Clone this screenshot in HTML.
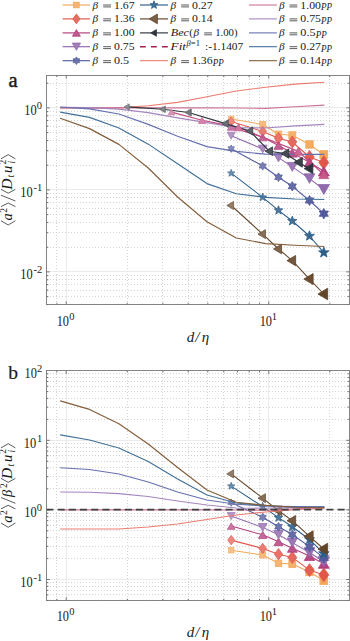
<!DOCTYPE html><html><head><meta charset="utf-8"><style>
html,body{margin:0;padding:0;background:#fff;width:350px;height:641px;overflow:hidden}
svg{display:block}
.mg{stroke:#d4d4d4;stroke-width:1;stroke-dasharray:1 2}
.Mg{stroke:#ebebeb;stroke-width:1}
.tk{stroke:#262626;stroke-width:0.6;fill:none}
.ax{stroke:#707070;stroke-width:0.85;fill:none}
text{font-family:"Liberation Serif", serif;fill:#1a1a1a}
</style></head><body>
<svg width="350" height="641" viewBox="0 0 350 641">
<rect width="350" height="641" fill="#fff"/>
<clipPath id="ca"><rect x="46.6" y="75.3" width="302.79999999999995" height="229.2"/></clipPath>
<line x1="56.50" y1="76" x2="56.50" y2="304.5" class="mg"/>
<line x1="127.50" y1="76" x2="127.50" y2="304.5" class="mg"/>
<line x1="162.50" y1="76" x2="162.50" y2="304.5" class="mg"/>
<line x1="188.50" y1="76" x2="188.50" y2="304.5" class="mg"/>
<line x1="207.50" y1="76" x2="207.50" y2="304.5" class="mg"/>
<line x1="223.50" y1="76" x2="223.50" y2="304.5" class="mg"/>
<line x1="237.50" y1="76" x2="237.50" y2="304.5" class="mg"/>
<line x1="249.50" y1="76" x2="249.50" y2="304.5" class="mg"/>
<line x1="259.50" y1="76" x2="259.50" y2="304.5" class="mg"/>
<line x1="329.50" y1="76" x2="329.50" y2="304.5" class="mg"/>
<line x1="47" y1="304.50" x2="349.4" y2="304.50" class="mg"/>
<line x1="47" y1="296.50" x2="349.4" y2="296.50" class="mg"/>
<line x1="47" y1="290.50" x2="349.4" y2="290.50" class="mg"/>
<line x1="47" y1="284.50" x2="349.4" y2="284.50" class="mg"/>
<line x1="47" y1="279.50" x2="349.4" y2="279.50" class="mg"/>
<line x1="47" y1="275.50" x2="349.4" y2="275.50" class="mg"/>
<line x1="47" y1="247.50" x2="349.4" y2="247.50" class="mg"/>
<line x1="47" y1="232.50" x2="349.4" y2="232.50" class="mg"/>
<line x1="47" y1="222.50" x2="349.4" y2="222.50" class="mg"/>
<line x1="47" y1="214.50" x2="349.4" y2="214.50" class="mg"/>
<line x1="47" y1="208.50" x2="349.4" y2="208.50" class="mg"/>
<line x1="47" y1="202.50" x2="349.4" y2="202.50" class="mg"/>
<line x1="47" y1="197.50" x2="349.4" y2="197.50" class="mg"/>
<line x1="47" y1="193.50" x2="349.4" y2="193.50" class="mg"/>
<line x1="47" y1="165.50" x2="349.4" y2="165.50" class="mg"/>
<line x1="47" y1="150.50" x2="349.4" y2="150.50" class="mg"/>
<line x1="47" y1="140.50" x2="349.4" y2="140.50" class="mg"/>
<line x1="47" y1="132.50" x2="349.4" y2="132.50" class="mg"/>
<line x1="47" y1="126.50" x2="349.4" y2="126.50" class="mg"/>
<line x1="47" y1="120.50" x2="349.4" y2="120.50" class="mg"/>
<line x1="47" y1="115.50" x2="349.4" y2="115.50" class="mg"/>
<line x1="47" y1="111.50" x2="349.4" y2="111.50" class="mg"/>
<line x1="47" y1="83.50" x2="349.4" y2="83.50" class="mg"/>
<line x1="66.50" y1="75.3" x2="66.50" y2="304.5" class="Mg"/>
<line x1="268.50" y1="75.3" x2="268.50" y2="304.5" class="Mg"/>
<line x1="46.6" y1="271.50" x2="349.4" y2="271.50" class="Mg"/>
<line x1="46.6" y1="189.50" x2="349.4" y2="189.50" class="Mg"/>
<line x1="46.6" y1="107.50" x2="349.4" y2="107.50" class="Mg"/>
<g clip-path="url(#ca)">
<polyline points="231.20,118.90 262.70,124.50 278.50,134.30 292.30,135.20 309.50,144.50 323.80,154.60" fill="none" stroke="#F2A85A" stroke-width="1.05" stroke-linejoin="round" />
<rect x="228.47" y="116.17" width="5.46" height="5.46" fill="#f6c28c" stroke="#f4b573" stroke-width="0.8"/>
<rect x="259.70" y="121.50" width="6.01" height="6.01" fill="#f5bc80" stroke="#f3af67" stroke-width="0.8"/>
<rect x="275.26" y="131.06" width="6.47" height="6.47" fill="#f4b776" stroke="#f2aa5d" stroke-width="0.8"/>
<rect x="288.83" y="131.73" width="6.94" height="6.94" fill="#f3b26c" stroke="#f2a85a" stroke-width="0.8"/>
<rect x="305.80" y="140.79" width="7.41" height="7.41" fill="#f3ac62" stroke="#f2a85a" stroke-width="0.8"/>
<rect x="319.90" y="150.70" width="7.80" height="7.80" fill="#f2a85a" stroke="#f2a85a" stroke-width="0.8"/>
<polyline points="231.20,121.60 262.70,131.40 278.50,138.20 292.30,142.00 309.50,157.00 323.80,162.50" fill="none" stroke="#E2564A" stroke-width="1.05" stroke-linejoin="round" />
<path d="M231.20 116.84L234.70 121.60L231.20 126.36L227.70 121.60Z" fill="#eb8980" stroke="#e66f65" stroke-width="0.8"/>
<path d="M262.70 126.16L266.55 131.40L262.70 136.64L258.85 131.40Z" fill="#e97d74" stroke="#e46458" stroke-width="0.8"/>
<path d="M278.50 132.56L282.65 138.20L278.50 143.84L274.35 138.20Z" fill="#e77369" stroke="#e3594e" stroke-width="0.8"/>
<path d="M292.30 135.95L296.75 142.00L292.30 148.05L287.85 142.00Z" fill="#e5695e" stroke="#e2564a" stroke-width="0.8"/>
<path d="M309.50 150.54L314.25 157.00L309.50 163.46L304.75 157.00Z" fill="#e35e53" stroke="#e2564a" stroke-width="0.8"/>
<path d="M323.80 155.70L328.80 162.50L323.80 169.30L318.80 162.50Z" fill="#e2564a" stroke="#e2564a" stroke-width="0.8"/>
<polyline points="231.20,127.00 262.70,137.30 278.50,145.50 292.30,153.00 309.50,162.30 323.80,171.30" fill="none" stroke="#B23E7C" stroke-width="1.05" stroke-linejoin="round" />
<path d="M231.20 123.77L235.05 130.23L227.35 130.23Z" fill="#c978a3" stroke="#be5b90" stroke-width="0.8"/>
<path d="M262.70 133.74L266.94 140.86L258.46 140.86Z" fill="#c46a9a" stroke="#b84d86" stroke-width="0.8"/>
<path d="M278.50 141.67L283.06 149.33L273.94 149.33Z" fill="#bf5f92" stroke="#b4427f" stroke-width="0.8"/>
<path d="M292.30 148.89L297.19 157.11L287.41 157.11Z" fill="#ba538a" stroke="#b23e7c" stroke-width="0.8"/>
<path d="M309.50 157.91L314.73 166.69L304.27 166.69Z" fill="#b64883" stroke="#b23e7c" stroke-width="0.8"/>
<path d="M323.80 166.68L329.30 175.92L318.30 175.92Z" fill="#b23e7c" stroke="#b23e7c" stroke-width="0.8"/>
<polyline points="231.20,135.70 262.70,149.00 278.50,157.60 292.30,166.90 309.50,178.60 323.80,189.50" fill="none" stroke="#9068AC" stroke-width="1.05" stroke-linejoin="round" />
<path d="M231.20 139.21L235.19 132.19L227.21 132.19Z" fill="#b195c5" stroke="#a17fb8" stroke-width="0.8"/>
<path d="M262.70 152.86L267.09 145.14L258.31 145.14Z" fill="#aa8bbf" stroke="#9974b3" stroke-width="0.8"/>
<path d="M278.50 161.76L283.23 153.44L273.77 153.44Z" fill="#a382ba" stroke="#926bae" stroke-width="0.8"/>
<path d="M292.30 171.36L297.37 162.44L287.23 162.44Z" fill="#9c79b5" stroke="#9068ac" stroke-width="0.8"/>
<path d="M309.50 183.37L314.92 173.83L304.08 173.83Z" fill="#9670b0" stroke="#9068ac" stroke-width="0.8"/>
<path d="M323.80 194.52L329.50 184.48L318.10 184.48Z" fill="#9068ac" stroke="#9068ac" stroke-width="0.8"/>
<polyline points="231.20,148.70 262.70,166.00 278.50,177.20 292.30,186.30 309.50,200.50 323.80,213.70" fill="none" stroke="#525A9C" stroke-width="1.05" stroke-linejoin="round" />
<path d="M231.20 144.99L232.28 146.84L234.41 146.84L233.35 148.70L234.41 150.55L232.28 150.56L231.20 152.41L230.12 150.56L227.99 150.55L229.05 148.70L227.99 146.84L230.12 146.84Z" fill="#868cba" stroke="#6c73ab" stroke-width="0.8"/>
<path d="M262.70 161.92L263.88 163.95L266.23 163.96L265.07 166.00L266.23 168.04L263.88 168.05L262.70 170.08L261.52 168.05L259.17 168.04L260.33 166.00L259.17 163.96L261.52 163.95Z" fill="#7a80b3" stroke="#6067a4" stroke-width="0.8"/>
<path d="M278.50 172.80L279.78 174.99L282.31 175.00L281.05 177.20L282.31 179.40L279.78 179.41L278.50 181.60L277.22 179.41L274.69 179.40L275.95 177.20L274.69 175.00L277.22 174.99Z" fill="#6f76ad" stroke="#555d9e" stroke-width="0.8"/>
<path d="M292.30 181.58L293.67 183.93L296.39 183.94L295.04 186.30L296.39 188.66L293.67 188.67L292.30 191.02L290.93 188.67L288.21 188.66L289.56 186.30L288.21 183.94L290.93 183.93Z" fill="#656ca7" stroke="#525a9c" stroke-width="0.8"/>
<path d="M309.50 195.47L310.96 197.97L313.86 197.98L312.42 200.50L313.86 203.02L310.96 203.03L309.50 205.53L308.04 203.03L305.14 203.02L306.58 200.50L305.14 197.98L308.04 197.97Z" fill="#5b62a1" stroke="#525a9c" stroke-width="0.8"/>
<path d="M323.80 208.40L325.34 211.04L328.39 211.05L326.87 213.70L328.39 216.35L325.34 216.36L323.80 219.00L322.26 216.36L319.21 216.35L320.73 213.70L319.21 211.05L322.26 211.04Z" fill="#525a9c" stroke="#525a9c" stroke-width="0.8"/>
<polyline points="231.20,173.20 262.70,197.30 278.50,210.30 292.30,221.00 309.50,236.00 323.80,252.60" fill="none" stroke="#2D5E88" stroke-width="1.05" stroke-linejoin="round" />
<path d="M231.20 169.35L232.15 171.89L234.86 172.01L232.74 173.70L233.46 176.31L231.20 174.82L228.94 176.31L229.66 173.70L227.54 172.01L230.25 171.89Z" fill="#6c8eac" stroke="#4c769a" stroke-width="0.8"/>
<path d="M262.70 193.06L263.75 195.86L266.73 195.99L264.39 197.85L265.19 200.73L262.70 199.08L260.21 200.73L261.01 197.85L258.67 195.99L261.65 195.86Z" fill="#5d83a3" stroke="#3e6b92" stroke-width="0.8"/>
<path d="M278.50 205.74L279.63 208.75L282.84 208.89L280.32 210.89L281.18 213.99L278.50 212.22L275.82 213.99L276.68 210.89L274.16 208.89L277.37 208.75Z" fill="#51799c" stroke="#31618a" stroke-width="0.8"/>
<path d="M292.30 216.10L293.51 219.34L296.96 219.49L294.26 221.64L295.18 224.96L292.30 223.06L289.42 224.96L290.34 221.64L287.64 219.49L291.09 219.34Z" fill="#447095" stroke="#2d5e88" stroke-width="0.8"/>
<path d="M309.50 230.78L310.79 234.22L314.47 234.39L311.59 236.68L312.57 240.23L309.50 238.19L306.43 240.23L307.41 236.68L304.53 234.39L308.21 234.22Z" fill="#38668e" stroke="#2d5e88" stroke-width="0.8"/>
<path d="M323.80 247.10L325.16 250.73L329.03 250.90L326.00 253.31L327.03 257.05L323.80 254.91L320.57 257.05L321.60 253.31L318.57 250.90L322.44 250.73Z" fill="#2d5e88" stroke="#2d5e88" stroke-width="0.8"/>
<polyline points="231.20,205.50 262.70,234.10 278.50,249.00 292.30,260.60 309.50,279.10 323.80,294.00" fill="none" stroke="#624428" stroke-width="1.05" stroke-linejoin="round" />
<path d="M226.79 205.50L233.61 201.44L233.61 209.56Z" fill="#917c69" stroke="#7a6048" stroke-width="0.8"/>
<path d="M257.95 234.10L265.45 229.63L265.45 238.57Z" fill="#866f59" stroke="#6f5339" stroke-width="0.8"/>
<path d="M273.46 249.00L281.54 244.19L281.54 253.81Z" fill="#7d644d" stroke="#65482c" stroke-width="0.8"/>
<path d="M286.96 260.60L295.64 255.44L295.64 265.76Z" fill="#735940" stroke="#624428" stroke-width="0.8"/>
<path d="M303.87 279.10L313.13 273.59L313.13 284.61Z" fill="#6a4d33" stroke="#624428" stroke-width="0.8"/>
<path d="M317.93 294.00L327.67 288.20L327.67 299.80Z" fill="#624428" stroke="#624428" stroke-width="0.8"/>
<polyline points="60.20,107.90 89.55,107.90 118.90,107.90 148.25,105.75 177.60,102.41 206.95,96.81 236.30,91.01 265.65,87.27 295.00,84.15 324.35,82.20" fill="none" stroke="#EC7C70" stroke-width="1.15" stroke-linejoin="round" />
<polyline points="60.20,107.90 89.55,107.90 118.90,107.90 148.25,107.90 177.60,107.90 206.95,107.90 236.30,108.02 265.65,108.37 295.00,106.72 324.35,105.19" fill="none" stroke="#CC7498" stroke-width="1.15" stroke-linejoin="round" />
<polyline points="60.20,107.30 89.55,107.65 118.90,109.19 148.25,112.60 177.60,117.90 206.95,122.62 236.30,127.65 265.65,128.00 295.00,125.94 324.35,124.36" fill="none" stroke="#A486BE" stroke-width="1.15" stroke-linejoin="round" />
<polyline points="60.20,107.05 89.55,108.87 118.90,113.97 148.25,124.40 177.60,136.18 206.95,146.61 236.30,151.37 265.65,154.17 295.00,154.38 324.35,154.30" fill="none" stroke="#6670B0" stroke-width="1.15" stroke-linejoin="round" />
<polyline points="60.20,112.09 89.55,117.40 118.90,127.93 148.25,144.13 177.60,163.75 206.95,183.60 236.30,193.73 265.65,197.33 295.00,199.04 324.35,199.49" fill="none" stroke="#42709A" stroke-width="1.15" stroke-linejoin="round" />
<polyline points="60.20,118.32 89.55,128.63 118.90,144.38 148.25,167.99 177.60,196.98 206.95,221.69 236.30,237.96 265.65,243.63 295.00,245.25 324.35,246.46" fill="none" stroke="#845E3A" stroke-width="1.15" stroke-linejoin="round" />
<polyline points="171.40,112.10 202.10,120.30 238.60,127.40 298.30,151.40 323.80,174.50" fill="none" stroke="#C04C80" stroke-width="1.15" stroke-linejoin="round" />
<polyline points="127.10,106.90 162.90,109.30 188.60,112.50 225.50,123.60 249.70,131.00 269.30,151.20 285.30,153.60 298.60,162.30 308.90,168.60" fill="none" stroke="#2E353C" stroke-width="1.15" stroke-linejoin="round" />
<path d="M171.40 109.33L174.70 114.87L168.10 114.87Z" fill="#d994b3" stroke="#d079a0" stroke-width="0.8"/>
<path d="M202.10 117.19L205.80 123.41L198.40 123.41Z" fill="#d485a9" stroke="#cb6a96" stroke-width="0.8"/>
<path d="M238.60 123.96L242.70 130.84L234.50 130.84Z" fill="#cf779e" stroke="#c65c8b" stroke-width="0.8"/>
<path d="M298.30 147.62L302.80 155.18L293.80 155.18Z" fill="#ca6994" stroke="#c14e81" stroke-width="0.8"/>
<path d="M323.80 170.38L328.70 178.62L318.90 178.62Z" fill="#c55a8a" stroke="#c04c80" stroke-width="0.8"/>
<path d="M124.18 106.90L129.22 103.90L129.22 109.90Z" fill="#8c9094" stroke="#6d7276" stroke-width="0.8"/>
<path d="M159.75 109.30L165.25 106.02L165.25 112.58Z" fill="#808589" stroke="#61666c" stroke-width="0.8"/>
<path d="M185.22 112.50L191.18 108.95L191.18 116.05Z" fill="#75797e" stroke="#555b61" stroke-width="0.8"/>
<path d="M221.89 123.60L228.31 119.77L228.31 127.42Z" fill="#696e73" stroke="#4a5056" stroke-width="0.8"/>
<path d="M245.86 131.00L252.74 126.90L252.74 135.10Z" fill="#5d6368" stroke="#3e444b" stroke-width="0.8"/>
<path d="M265.23 151.20L272.58 146.82L272.58 155.57Z" fill="#52575d" stroke="#323940" stroke-width="0.8"/>
<path d="M280.99 153.60L288.81 148.95L288.81 158.25Z" fill="#464c52" stroke="#2e353c" stroke-width="0.8"/>
<path d="M294.06 162.30L302.34 157.38L302.34 167.23Z" fill="#3a4147" stroke="#2e353c" stroke-width="0.8"/>
<path d="M304.13 168.60L312.87 163.40L312.87 173.80Z" fill="#2e353c" stroke="#2e353c" stroke-width="0.8"/>
</g>
<path d="M66.20 304.5v-3.2M66.20 75.3v3.2M268.80 304.5v-3.2M268.80 75.3v3.2M56.93 304.5v-1.8M56.93 75.3v1.8M127.19 304.5v-1.8M127.19 75.3v1.8M162.86 304.5v-1.8M162.86 75.3v1.8M188.18 304.5v-1.8M188.18 75.3v1.8M207.81 304.5v-1.8M207.81 75.3v1.8M223.85 304.5v-1.8M223.85 75.3v1.8M237.42 304.5v-1.8M237.42 75.3v1.8M249.17 304.5v-1.8M249.17 75.3v1.8M259.53 304.5v-1.8M259.53 75.3v1.8M329.79 304.5v-1.8M329.79 75.3v1.8M46.6 271.90h3.2M349.4 271.90h-3.2M46.6 189.90h3.2M349.4 189.90h-3.2M46.6 107.90h3.2M349.4 107.90h-3.2M46.6 304.53h1.8M349.4 304.53h-1.8M46.6 296.58h1.8M349.4 296.58h-1.8M46.6 290.09h1.8M349.4 290.09h-1.8M46.6 284.60h1.8M349.4 284.60h-1.8M46.6 279.85h1.8M349.4 279.85h-1.8M46.6 275.65h1.8M349.4 275.65h-1.8M46.6 247.22h1.8M349.4 247.22h-1.8M46.6 232.78h1.8M349.4 232.78h-1.8M46.6 222.53h1.8M349.4 222.53h-1.8M46.6 214.58h1.8M349.4 214.58h-1.8M46.6 208.09h1.8M349.4 208.09h-1.8M46.6 202.60h1.8M349.4 202.60h-1.8M46.6 197.85h1.8M349.4 197.85h-1.8M46.6 193.65h1.8M349.4 193.65h-1.8M46.6 165.22h1.8M349.4 165.22h-1.8M46.6 150.78h1.8M349.4 150.78h-1.8M46.6 140.53h1.8M349.4 140.53h-1.8M46.6 132.58h1.8M349.4 132.58h-1.8M46.6 126.09h1.8M349.4 126.09h-1.8M46.6 120.60h1.8M349.4 120.60h-1.8M46.6 115.85h1.8M349.4 115.85h-1.8M46.6 111.65h1.8M349.4 111.65h-1.8M46.6 83.22h1.8M349.4 83.22h-1.8" class="tk"/>
<rect x="46.5" y="75.5" width="303" height="229" class="ax"/>
<clipPath id="cb"><rect x="46.6" y="370.7" width="302.79999999999995" height="229.8"/></clipPath>
<line x1="56.50" y1="371" x2="56.50" y2="600.5" class="mg"/>
<line x1="127.50" y1="371" x2="127.50" y2="600.5" class="mg"/>
<line x1="162.50" y1="371" x2="162.50" y2="600.5" class="mg"/>
<line x1="188.50" y1="371" x2="188.50" y2="600.5" class="mg"/>
<line x1="207.50" y1="371" x2="207.50" y2="600.5" class="mg"/>
<line x1="223.50" y1="371" x2="223.50" y2="600.5" class="mg"/>
<line x1="237.50" y1="371" x2="237.50" y2="600.5" class="mg"/>
<line x1="249.50" y1="371" x2="249.50" y2="600.5" class="mg"/>
<line x1="259.50" y1="371" x2="259.50" y2="600.5" class="mg"/>
<line x1="329.50" y1="371" x2="329.50" y2="600.5" class="mg"/>
<line x1="47" y1="600.50" x2="349.4" y2="600.50" class="mg"/>
<line x1="47" y1="594.50" x2="349.4" y2="594.50" class="mg"/>
<line x1="47" y1="590.50" x2="349.4" y2="590.50" class="mg"/>
<line x1="47" y1="586.50" x2="349.4" y2="586.50" class="mg"/>
<line x1="47" y1="582.50" x2="349.4" y2="582.50" class="mg"/>
<line x1="47" y1="558.50" x2="349.4" y2="558.50" class="mg"/>
<line x1="47" y1="546.50" x2="349.4" y2="546.50" class="mg"/>
<line x1="47" y1="537.50" x2="349.4" y2="537.50" class="mg"/>
<line x1="47" y1="530.50" x2="349.4" y2="530.50" class="mg"/>
<line x1="47" y1="525.50" x2="349.4" y2="525.50" class="mg"/>
<line x1="47" y1="520.50" x2="349.4" y2="520.50" class="mg"/>
<line x1="47" y1="516.50" x2="349.4" y2="516.50" class="mg"/>
<line x1="47" y1="513.50" x2="349.4" y2="513.50" class="mg"/>
<line x1="47" y1="488.50" x2="349.4" y2="488.50" class="mg"/>
<line x1="47" y1="476.50" x2="349.4" y2="476.50" class="mg"/>
<line x1="47" y1="467.50" x2="349.4" y2="467.50" class="mg"/>
<line x1="47" y1="461.50" x2="349.4" y2="461.50" class="mg"/>
<line x1="47" y1="455.50" x2="349.4" y2="455.50" class="mg"/>
<line x1="47" y1="451.50" x2="349.4" y2="451.50" class="mg"/>
<line x1="47" y1="447.50" x2="349.4" y2="447.50" class="mg"/>
<line x1="47" y1="443.50" x2="349.4" y2="443.50" class="mg"/>
<line x1="47" y1="419.50" x2="349.4" y2="419.50" class="mg"/>
<line x1="47" y1="407.50" x2="349.4" y2="407.50" class="mg"/>
<line x1="47" y1="398.50" x2="349.4" y2="398.50" class="mg"/>
<line x1="47" y1="391.50" x2="349.4" y2="391.50" class="mg"/>
<line x1="47" y1="386.50" x2="349.4" y2="386.50" class="mg"/>
<line x1="47" y1="381.50" x2="349.4" y2="381.50" class="mg"/>
<line x1="47" y1="377.50" x2="349.4" y2="377.50" class="mg"/>
<line x1="47" y1="373.50" x2="349.4" y2="373.50" class="mg"/>
<line x1="66.50" y1="370.7" x2="66.50" y2="600.5" class="Mg"/>
<line x1="268.50" y1="370.7" x2="268.50" y2="600.5" class="Mg"/>
<line x1="46.6" y1="579.50" x2="349.4" y2="579.50" class="Mg"/>
<line x1="46.6" y1="509.50" x2="349.4" y2="509.50" class="Mg"/>
<line x1="46.6" y1="440.50" x2="349.4" y2="440.50" class="Mg"/>
<g clip-path="url(#cb)">
<polyline points="231.20,550.24 262.70,554.99 278.50,563.31 292.30,564.07 309.50,571.97 323.80,580.54" fill="none" stroke="#F2A85A" stroke-width="1.05" stroke-linejoin="round" />
<rect x="228.47" y="547.51" width="5.46" height="5.46" fill="#f6c28c" stroke="#f4b573" stroke-width="0.8"/>
<rect x="259.70" y="551.99" width="6.01" height="6.01" fill="#f5bc80" stroke="#f3af67" stroke-width="0.8"/>
<rect x="275.26" y="560.07" width="6.47" height="6.47" fill="#f4b776" stroke="#f2aa5d" stroke-width="0.8"/>
<rect x="288.83" y="560.60" width="6.94" height="6.94" fill="#f3b26c" stroke="#f2a85a" stroke-width="0.8"/>
<rect x="305.80" y="568.26" width="7.41" height="7.41" fill="#f3ac62" stroke="#f2a85a" stroke-width="0.8"/>
<rect x="319.90" y="576.64" width="7.80" height="7.80" fill="#f2a85a" stroke="#f2a85a" stroke-width="0.8"/>
<polyline points="231.20,540.12 262.70,548.43 278.50,554.21 292.30,557.43 309.50,570.16 323.80,574.83" fill="none" stroke="#E2564A" stroke-width="1.05" stroke-linejoin="round" />
<path d="M231.20 535.36L234.70 540.12L231.20 544.88L227.70 540.12Z" fill="#eb8980" stroke="#e66f65" stroke-width="0.8"/>
<path d="M262.70 543.20L266.55 548.43L262.70 553.67L258.85 548.43Z" fill="#e97d74" stroke="#e46458" stroke-width="0.8"/>
<path d="M278.50 548.56L282.65 554.21L278.50 559.85L274.35 554.21Z" fill="#e77369" stroke="#e3594e" stroke-width="0.8"/>
<path d="M292.30 551.38L296.75 557.43L292.30 563.48L287.85 557.43Z" fill="#e5695e" stroke="#e2564a" stroke-width="0.8"/>
<path d="M309.50 563.70L314.25 570.16L309.50 576.62L304.75 570.16Z" fill="#e35e53" stroke="#e2564a" stroke-width="0.8"/>
<path d="M323.80 568.03L328.80 574.83L323.80 581.63L318.80 574.83Z" fill="#e2564a" stroke="#e2564a" stroke-width="0.8"/>
<polyline points="231.20,526.11 262.70,534.85 278.50,541.81 292.30,548.18 309.50,556.07 323.80,563.71" fill="none" stroke="#B23E7C" stroke-width="1.05" stroke-linejoin="round" />
<path d="M231.20 522.88L235.05 529.35L227.35 529.35Z" fill="#c978a3" stroke="#be5b90" stroke-width="0.8"/>
<path d="M262.70 531.30L266.94 538.41L258.46 538.41Z" fill="#c46a9a" stroke="#b84d86" stroke-width="0.8"/>
<path d="M278.50 537.98L283.06 545.65L273.94 545.65Z" fill="#bf5f92" stroke="#b4427f" stroke-width="0.8"/>
<path d="M292.30 544.07L297.19 552.29L287.41 552.29Z" fill="#ba538a" stroke="#b23e7c" stroke-width="0.8"/>
<path d="M309.50 551.68L314.73 560.46L304.27 560.46Z" fill="#b64883" stroke="#b23e7c" stroke-width="0.8"/>
<path d="M323.80 559.09L329.30 568.33L318.30 568.33Z" fill="#b23e7c" stroke="#b23e7c" stroke-width="0.8"/>
<polyline points="231.20,516.10 262.70,527.39 278.50,534.69 292.30,542.59 309.50,552.52 323.80,561.77" fill="none" stroke="#9068AC" stroke-width="1.05" stroke-linejoin="round" />
<path d="M231.20 519.62L235.19 512.59L227.21 512.59Z" fill="#b195c5" stroke="#a17fb8" stroke-width="0.8"/>
<path d="M262.70 531.26L267.09 523.53L258.31 523.53Z" fill="#aa8bbf" stroke="#9974b3" stroke-width="0.8"/>
<path d="M278.50 538.86L283.23 530.53L273.77 530.53Z" fill="#a382ba" stroke="#926bae" stroke-width="0.8"/>
<path d="M292.30 547.05L297.37 538.12L287.23 538.12Z" fill="#9c79b5" stroke="#9068ac" stroke-width="0.8"/>
<path d="M309.50 557.28L314.92 547.75L304.08 547.75Z" fill="#9670b0" stroke="#9068ac" stroke-width="0.8"/>
<path d="M323.80 566.79L329.50 556.75L318.10 556.75Z" fill="#9068ac" stroke="#9068ac" stroke-width="0.8"/>
<polyline points="231.20,502.63 262.70,517.31 278.50,526.82 292.30,534.54 309.50,546.59 323.80,557.80" fill="none" stroke="#525A9C" stroke-width="1.05" stroke-linejoin="round" />
<path d="M231.20 498.92L232.28 500.76L234.41 500.77L233.35 502.63L234.41 504.48L232.28 504.49L231.20 506.34L230.12 504.49L227.99 504.48L229.05 502.63L227.99 500.77L230.12 500.76Z" fill="#868cba" stroke="#6c73ab" stroke-width="0.8"/>
<path d="M262.70 513.23L263.88 515.26L266.23 515.27L265.07 517.31L266.23 519.35L263.88 519.36L262.70 521.39L261.52 519.36L259.17 519.35L260.33 517.31L259.17 515.27L261.52 515.26Z" fill="#7a80b3" stroke="#6067a4" stroke-width="0.8"/>
<path d="M278.50 522.42L279.78 524.61L282.31 524.62L281.05 526.82L282.31 529.02L279.78 529.03L278.50 531.22L277.22 529.03L274.69 529.02L275.95 526.82L274.69 524.62L277.22 524.61Z" fill="#6f76ad" stroke="#555d9e" stroke-width="0.8"/>
<path d="M292.30 529.82L293.67 532.17L296.39 532.18L295.04 534.54L296.39 536.90L293.67 536.91L292.30 539.26L290.93 536.91L288.21 536.90L289.56 534.54L288.21 532.18L290.93 532.17Z" fill="#656ca7" stroke="#525a9c" stroke-width="0.8"/>
<path d="M309.50 541.56L310.96 544.06L313.86 544.08L312.42 546.59L313.86 549.11L310.96 549.12L309.50 551.63L308.04 549.12L305.14 549.11L306.58 546.59L305.14 544.08L308.04 544.06Z" fill="#5b62a1" stroke="#525a9c" stroke-width="0.8"/>
<path d="M323.80 552.50L325.34 555.14L328.39 555.15L326.87 557.80L328.39 560.45L325.34 560.46L323.80 563.10L322.26 560.46L319.21 560.45L320.73 557.80L319.21 555.15L322.26 555.14Z" fill="#525a9c" stroke="#525a9c" stroke-width="0.8"/>
<polyline points="231.20,486.17 262.70,506.63 278.50,517.66 292.30,526.74 309.50,539.47 323.80,553.56" fill="none" stroke="#2D5E88" stroke-width="1.05" stroke-linejoin="round" />
<path d="M231.20 482.32L232.15 484.86L234.86 484.98L232.74 486.67L233.46 489.29L231.20 487.79L228.94 489.29L229.66 486.67L227.54 484.98L230.25 484.86Z" fill="#6c8eac" stroke="#4c769a" stroke-width="0.8"/>
<path d="M262.70 502.39L263.75 505.19L266.73 505.32L264.39 507.18L265.19 510.05L262.70 508.41L260.21 510.05L261.01 507.18L258.67 505.32L261.65 505.19Z" fill="#5d83a3" stroke="#3e6b92" stroke-width="0.8"/>
<path d="M278.50 513.10L279.63 516.11L282.84 516.25L280.32 518.25L281.18 521.35L278.50 519.58L275.82 521.35L276.68 518.25L274.16 516.25L277.37 516.11Z" fill="#51799c" stroke="#31618a" stroke-width="0.8"/>
<path d="M292.30 521.85L293.51 525.08L296.96 525.23L294.26 527.38L295.18 530.70L292.30 528.80L289.42 530.70L290.34 527.38L287.64 525.23L291.09 525.08Z" fill="#447095" stroke="#2d5e88" stroke-width="0.8"/>
<path d="M309.50 534.25L310.79 537.70L314.47 537.86L311.59 540.15L312.57 543.70L309.50 541.67L306.43 543.70L307.41 540.15L304.53 537.86L308.21 537.70Z" fill="#38668e" stroke="#2d5e88" stroke-width="0.8"/>
<path d="M323.80 548.06L325.16 551.70L329.03 551.86L326.00 554.28L327.03 558.01L323.80 555.87L320.57 558.01L321.60 554.28L318.57 551.86L322.44 551.70Z" fill="#2d5e88" stroke="#2d5e88" stroke-width="0.8"/>
<polyline points="231.20,473.88 262.70,498.16 278.50,510.80 292.30,520.65 309.50,536.35 323.80,549.00" fill="none" stroke="#624428" stroke-width="1.05" stroke-linejoin="round" />
<path d="M226.79 473.88L233.61 469.82L233.61 477.94Z" fill="#917c69" stroke="#7a6048" stroke-width="0.8"/>
<path d="M257.95 498.16L265.45 493.69L265.45 502.62Z" fill="#866f59" stroke="#6f5339" stroke-width="0.8"/>
<path d="M273.46 510.80L281.54 505.99L281.54 515.62Z" fill="#7d644d" stroke="#65482c" stroke-width="0.8"/>
<path d="M286.96 520.65L295.64 515.49L295.64 525.81Z" fill="#735940" stroke="#624428" stroke-width="0.8"/>
<path d="M303.87 536.35L313.13 530.84L313.13 541.86Z" fill="#6a4d33" stroke="#624428" stroke-width="0.8"/>
<path d="M317.93 549.00L327.67 543.20L327.67 554.80Z" fill="#624428" stroke="#624428" stroke-width="0.8"/>
<polyline points="60.20,529.00 89.55,529.00 118.90,529.00 148.25,527.00 177.60,524.00 206.95,519.50 236.30,515.00 265.65,512.00 295.00,509.60 324.35,508.20" fill="none" stroke="#EC7C70" stroke-width="1.15" stroke-linejoin="round" />
<polyline points="60.20,509.90 89.55,509.90 118.90,509.90 148.25,509.90 177.60,509.90 206.95,509.90 236.30,510.00 265.65,510.30 295.00,508.90 324.35,507.60" fill="none" stroke="#CC7498" stroke-width="1.15" stroke-linejoin="round" />
<polyline points="60.20,492.00 89.55,492.30 118.90,493.60 148.25,496.50 177.60,501.00 206.95,505.00 236.30,508.00 265.65,508.30 295.00,507.40 324.35,506.90" fill="none" stroke="#A486BE" stroke-width="1.15" stroke-linejoin="round" />
<polyline points="60.20,467.70 89.55,469.50 118.90,474.00 148.25,482.00 177.60,492.00 206.95,500.00 236.30,504.30 265.65,506.00 295.00,506.60 324.35,506.70" fill="none" stroke="#6670B0" stroke-width="1.15" stroke-linejoin="round" />
<polyline points="60.20,434.90 89.55,440.00 118.90,448.00 148.25,461.50 177.60,479.00 206.95,495.00 236.30,503.00 265.65,505.80 295.00,507.00 324.35,507.30" fill="none" stroke="#42709A" stroke-width="1.15" stroke-linejoin="round" />
<polyline points="60.20,400.90 89.55,409.40 118.90,423.70 148.25,444.00 177.60,467.50 206.95,490.00 236.30,502.20 265.65,505.40 295.00,507.20 324.35,507.80" fill="none" stroke="#845E3A" stroke-width="1.15" stroke-linejoin="round" />
<line x1="46.4" y1="509.60" x2="349.4" y2="509.60" stroke="#404040" stroke-width="1.6" stroke-dasharray="7.1 4.1"/>
</g>
<path d="M66.20 600.5v-3.2M66.20 370.7v3.2M268.80 600.5v-3.2M268.80 370.7v3.2M56.93 600.5v-1.8M56.93 370.7v1.8M127.19 600.5v-1.8M127.19 370.7v1.8M162.86 600.5v-1.8M162.86 370.7v1.8M188.18 600.5v-1.8M188.18 370.7v1.8M207.81 600.5v-1.8M207.81 370.7v1.8M223.85 600.5v-1.8M223.85 370.7v1.8M237.42 600.5v-1.8M237.42 370.7v1.8M249.17 600.5v-1.8M249.17 370.7v1.8M259.53 600.5v-1.8M259.53 370.7v1.8M329.79 600.5v-1.8M329.79 370.7v1.8M46.6 579.50h3.2M349.4 579.50h-3.2M46.6 509.90h3.2M349.4 509.90h-3.2M46.6 440.30h3.2M349.4 440.30h-3.2M46.6 600.45h1.8M349.4 600.45h-1.8M46.6 594.94h1.8M349.4 594.94h-1.8M46.6 590.28h1.8M349.4 590.28h-1.8M46.6 586.24h1.8M349.4 586.24h-1.8M46.6 582.68h1.8M349.4 582.68h-1.8M46.6 558.55h1.8M349.4 558.55h-1.8M46.6 546.29h1.8M349.4 546.29h-1.8M46.6 537.60h1.8M349.4 537.60h-1.8M46.6 530.85h1.8M349.4 530.85h-1.8M46.6 525.34h1.8M349.4 525.34h-1.8M46.6 520.68h1.8M349.4 520.68h-1.8M46.6 516.64h1.8M349.4 516.64h-1.8M46.6 513.08h1.8M349.4 513.08h-1.8M46.6 488.95h1.8M349.4 488.95h-1.8M46.6 476.69h1.8M349.4 476.69h-1.8M46.6 468.00h1.8M349.4 468.00h-1.8M46.6 461.25h1.8M349.4 461.25h-1.8M46.6 455.74h1.8M349.4 455.74h-1.8M46.6 451.08h1.8M349.4 451.08h-1.8M46.6 447.04h1.8M349.4 447.04h-1.8M46.6 443.48h1.8M349.4 443.48h-1.8M46.6 419.35h1.8M349.4 419.35h-1.8M46.6 407.09h1.8M349.4 407.09h-1.8M46.6 398.40h1.8M349.4 398.40h-1.8M46.6 391.65h1.8M349.4 391.65h-1.8M46.6 386.14h1.8M349.4 386.14h-1.8M46.6 381.48h1.8M349.4 381.48h-1.8M46.6 377.44h1.8M349.4 377.44h-1.8M46.6 373.88h1.8M349.4 373.88h-1.8" class="tk"/>
<rect x="46.5" y="370.5" width="303" height="230" class="ax"/>
<text x="24.23" y="115.10" font-size="14.0" textLength="12.39" lengthAdjust="spacingAndGlyphs">10</text><text x="36.75" y="109.40" font-size="10.5">0</text>
<text x="20.36" y="197.10" font-size="14.0" textLength="12.39" lengthAdjust="spacingAndGlyphs">10</text><text x="33.48" y="191.40" font-size="10.5">-1</text>
<text x="20.30" y="279.10" font-size="14.0" textLength="12.39" lengthAdjust="spacingAndGlyphs">10</text><text x="33.43" y="273.40" font-size="10.5">-2</text>
<text x="24.47" y="377.90" font-size="14.0" textLength="12.39" lengthAdjust="spacingAndGlyphs">10</text><text x="36.93" y="372.20" font-size="10.5">2</text>
<text x="23.79" y="447.50" font-size="14.0" textLength="12.39" lengthAdjust="spacingAndGlyphs">10</text><text x="36.98" y="441.80" font-size="10.5">1</text>
<text x="24.23" y="517.10" font-size="14.0" textLength="12.39" lengthAdjust="spacingAndGlyphs">10</text><text x="36.75" y="511.40" font-size="10.5">0</text>
<text x="20.36" y="586.70" font-size="14.0" textLength="12.39" lengthAdjust="spacingAndGlyphs">10</text><text x="33.48" y="581.00" font-size="10.5">-1</text>
<text x="56.67" y="325.60" font-size="14.0" textLength="12.39" lengthAdjust="spacingAndGlyphs">10</text><text x="69.19" y="319.60" font-size="10.5">0</text>
<text x="259.65" y="325.60" font-size="14.0" textLength="12.39" lengthAdjust="spacingAndGlyphs">10</text><text x="271.64" y="319.60" font-size="10.5">1</text>
<text x="56.67" y="620.90" font-size="14.0" textLength="12.39" lengthAdjust="spacingAndGlyphs">10</text><text x="69.19" y="614.90" font-size="10.5">0</text>
<text x="259.65" y="620.90" font-size="14.0" textLength="12.39" lengthAdjust="spacingAndGlyphs">10</text><text x="271.64" y="614.90" font-size="10.5">1</text>
<text x="186.85" y="342.3" font-size="15" font-style="italic">d</text><text x="195.3" y="342.3" font-size="15" font-style="italic">/</text><text x="201.8" y="342.3" font-size="15" font-style="italic">η</text>
<text x="186.85" y="636.7" font-size="15" font-style="italic">d</text><text x="195.3" y="636.7" font-size="15" font-style="italic">/</text><text x="201.8" y="636.7" font-size="15" font-style="italic">η</text>
<text x="8.6" y="87.4" font-size="20.5" stroke="#1a1a1a" stroke-width="0.45">a</text>
<text x="8.3" y="379.2" font-size="19.5" stroke="#1a1a1a" stroke-width="0.2">b</text>
<g transform="translate(12.2 225.0) rotate(-90)"><path d="M4.30 -11.2L0.00 -4L4.30 3.2M18.40 -11.2L22.00 -4L18.40 3.2M24 3.2L29.8 -11.2M35.70 -11.2L31.80 -4L35.70 3.2M66.20 -11.2L70.40 -4L66.20 3.2" fill="none" stroke="#1a1a1a" stroke-width="0.72"/><text x="4.6" y="0" font-size="14.5" font-style="italic">a</text><text x="12.2" y="-5.6" font-size="9.5">2</text><text x="35.20" y="0" font-size="15.5" font-style="italic">D</text><text x="47.60" y="2.0" font-size="9.5" font-style="italic">t</text><text x="52.00" y="0" font-size="14.5" font-style="italic">u</text><text x="60.40" y="-5.8" font-size="9.5">2</text><text x="61.60" y="3.2" font-size="9.5" font-style="italic">i</text></g>
<g transform="translate(12.2 527.3) rotate(-90)"><path d="M4.30 -11.2L0.00 -4L4.30 3.2M18.40 -11.2L22.00 -4L18.40 3.2M24 3.2L29.8 -11.2M48.90 -11.2L45.00 -4L48.90 3.2M79.40 -11.2L83.60 -4L79.40 3.2" fill="none" stroke="#1a1a1a" stroke-width="0.72"/><text x="4.6" y="0" font-size="14.5" font-style="italic">a</text><text x="12.2" y="-5.6" font-size="9.5">2</text><text x="30.3" y="0" font-size="14.5" font-style="italic">β</text><text x="39.2" y="-5.6" font-size="9.5">2</text><text x="48.40" y="0" font-size="15.5" font-style="italic">D</text><text x="60.80" y="2.0" font-size="9.5" font-style="italic">t</text><text x="65.20" y="0" font-size="14.5" font-style="italic">u</text><text x="73.60" y="-5.8" font-size="9.5">2</text><text x="74.80" y="3.2" font-size="9.5" font-style="italic">i</text></g>
<line x1="62.6" y1="5.0" x2="90" y2="5.0" stroke="#F2A85A" stroke-width="1.15" />
<rect x="73.59" y="2.19" width="5.62" height="5.62" fill="#f4b573" stroke="#f2a85a" stroke-width="0.8"/>
<text x="92.60" y="8.50" font-size="11.2" font-style="italic">β</text><path d="M103.20 5.00h7.8M103.20 6.90h7.8" stroke="#1a1a1a" stroke-width="0.72"/><text x="114.00" y="8.50" font-size="11.2" textLength="20.6" lengthAdjust="spacingAndGlyphs">1.67</text>
<line x1="62.6" y1="18.9" x2="90" y2="18.9" stroke="#E2564A" stroke-width="1.15" />
<path d="M76.40 14.00L80.00 18.90L76.40 23.80L72.80 18.90Z" fill="#e66f65" stroke="#e2564a" stroke-width="0.8"/>
<text x="92.60" y="22.40" font-size="11.2" font-style="italic">β</text><path d="M103.20 18.90h7.8M103.20 20.80h7.8" stroke="#1a1a1a" stroke-width="0.72"/><text x="114.00" y="22.40" font-size="11.2" textLength="20.6" lengthAdjust="spacingAndGlyphs">1.36</text>
<line x1="62.6" y1="32.9" x2="90" y2="32.9" stroke="#B23E7C" stroke-width="1.15" />
<path d="M76.40 29.57L80.36 36.23L72.44 36.23Z" fill="#be5b90" stroke="#b23e7c" stroke-width="0.8"/>
<text x="92.60" y="36.40" font-size="11.2" font-style="italic">β</text><path d="M103.20 32.90h7.8M103.20 34.80h7.8" stroke="#1a1a1a" stroke-width="0.72"/><text x="114.00" y="36.40" font-size="11.2" textLength="20.6" lengthAdjust="spacingAndGlyphs">1.00</text>
<line x1="62.6" y1="46.7" x2="90" y2="46.7" stroke="#9068AC" stroke-width="1.15" />
<path d="M76.40 50.31L80.50 43.09L72.30 43.09Z" fill="#a17fb8" stroke="#9068ac" stroke-width="0.8"/>
<text x="92.60" y="50.20" font-size="11.2" font-style="italic">β</text><path d="M103.20 46.70h7.8M103.20 48.60h7.8" stroke="#1a1a1a" stroke-width="0.72"/><text x="114.00" y="50.20" font-size="11.2" textLength="20.6" lengthAdjust="spacingAndGlyphs">0.75</text>
<line x1="62.6" y1="60.7" x2="90" y2="60.7" stroke="#525A9C" stroke-width="1.15" />
<path d="M76.40 56.88L77.51 58.78L79.70 58.79L78.61 60.70L79.70 62.61L77.51 62.62L76.40 64.52L75.29 62.62L73.10 62.61L74.19 60.70L73.10 58.79L75.29 58.78Z" fill="#6c73ab" stroke="#525a9c" stroke-width="0.8"/>
<text x="92.60" y="64.20" font-size="11.2" font-style="italic">β</text><path d="M103.20 60.70h7.8M103.20 62.60h7.8" stroke="#1a1a1a" stroke-width="0.72"/><text x="114.00" y="64.20" font-size="11.2" textLength="15.2" lengthAdjust="spacingAndGlyphs">0.5</text>
<line x1="140" y1="5.0" x2="168" y2="5.0" stroke="#2D5E88" stroke-width="1.15" />
<path d="M154.00 0.80L155.04 3.57L157.99 3.70L155.68 5.55L156.47 8.40L154.00 6.76L151.53 8.40L152.32 5.55L150.01 3.70L152.96 3.57Z" fill="#426e94" stroke="#2d5e88" stroke-width="0.8"/>
<text x="170.60" y="8.50" font-size="11.2" font-style="italic">β</text><path d="M181.20 5.00h7.8M181.20 6.90h7.8" stroke="#1a1a1a" stroke-width="0.72"/><text x="192.00" y="8.50" font-size="11.2" textLength="20.6" lengthAdjust="spacingAndGlyphs">0.27</text>
<line x1="140" y1="18.9" x2="168" y2="18.9" stroke="#624428" stroke-width="1.15" />
<path d="M149.23 18.90L157.37 14.05L157.37 23.75Z" fill="#7a6048" stroke="#624428" stroke-width="0.8"/>
<text x="170.60" y="22.40" font-size="11.2" font-style="italic">β</text><path d="M181.20 18.90h7.8M181.20 20.80h7.8" stroke="#1a1a1a" stroke-width="0.72"/><text x="192.00" y="22.40" font-size="11.2" textLength="20.6" lengthAdjust="spacingAndGlyphs">0.14</text>
<line x1="140" y1="32.9" x2="168" y2="32.9" stroke="#2E353C" stroke-width="1.15" />
<path d="M150.79 32.90L156.41 29.55L156.41 36.25Z" fill="#2e353c" stroke="#2e353c" stroke-width="0.8"/>
<text x="170.8" y="36.40" font-size="11.2" font-style="italic" textLength="18.2" lengthAdjust="spacingAndGlyphs">Bec</text>
<text x="189.2" y="36.40" font-size="11.2">(</text>
<text x="193.6" y="36.40" font-size="11.2" font-style="italic">β</text>
<path d="M204.20 32.90h7.8M204.20 34.80h7.8" stroke="#1a1a1a" stroke-width="0.72"/>
<text x="215.2" y="36.40" font-size="11.2" textLength="22.4" lengthAdjust="spacingAndGlyphs">1.00)</text>
<line x1="140" y1="46.7" x2="168" y2="46.7" stroke="#A8204E" stroke-width="1.5" stroke-dasharray="5.8 5.2"/>
<text x="170.6" y="49.80" font-size="11.2" font-style="italic" textLength="15.4" lengthAdjust="spacingAndGlyphs">Fit</text>
<text x="186.6" y="46.40" font-size="7.6" textLength="13.4" lengthAdjust="spacingAndGlyphs"><tspan font-style="italic">β</tspan>=1</text>
<text x="205.0" y="49.80" font-size="11.2" textLength="38.2" lengthAdjust="spacingAndGlyphs">:-1.1407</text>
<line x1="140" y1="60.7" x2="168" y2="60.7" stroke="#EC7C70" stroke-width="1.1" />
<text x="170.60" y="64.20" font-size="11.2" font-style="italic">β</text><path d="M181.20 60.70h7.8M181.20 62.60h7.8" stroke="#1a1a1a" stroke-width="0.72"/><text x="192.00" y="64.20" font-size="11.2" textLength="20.6" lengthAdjust="spacingAndGlyphs">1.36</text><text x="212.80" y="65.60" font-size="9.6" font-style="italic" textLength="11" lengthAdjust="spacingAndGlyphs">PP</text>
<line x1="249" y1="5.0" x2="276.9" y2="5.0" stroke="#CC7498" stroke-width="1.1" />
<text x="278.90" y="8.50" font-size="11.2" font-style="italic">β</text><path d="M289.50 5.00h7.8M289.50 6.90h7.8" stroke="#1a1a1a" stroke-width="0.72"/><text x="300.30" y="8.50" font-size="11.2" textLength="20.6" lengthAdjust="spacingAndGlyphs">1.00</text><text x="321.10" y="9.90" font-size="9.6" font-style="italic" textLength="11" lengthAdjust="spacingAndGlyphs">PP</text>
<line x1="249" y1="18.9" x2="276.9" y2="18.9" stroke="#A486BE" stroke-width="1.1" />
<text x="278.90" y="22.40" font-size="11.2" font-style="italic">β</text><path d="M289.50 18.90h7.8M289.50 20.80h7.8" stroke="#1a1a1a" stroke-width="0.72"/><text x="300.30" y="22.40" font-size="11.2" textLength="20.6" lengthAdjust="spacingAndGlyphs">0.75</text><text x="321.10" y="23.80" font-size="9.6" font-style="italic" textLength="11" lengthAdjust="spacingAndGlyphs">PP</text>
<line x1="249" y1="32.9" x2="276.9" y2="32.9" stroke="#6670B0" stroke-width="1.1" />
<text x="278.90" y="36.40" font-size="11.2" font-style="italic">β</text><path d="M289.50 32.90h7.8M289.50 34.80h7.8" stroke="#1a1a1a" stroke-width="0.72"/><text x="300.30" y="36.40" font-size="11.2" textLength="15.2" lengthAdjust="spacingAndGlyphs">0.5</text><text x="315.70" y="37.80" font-size="9.6" font-style="italic" textLength="11" lengthAdjust="spacingAndGlyphs">PP</text>
<line x1="249" y1="46.7" x2="276.9" y2="46.7" stroke="#42709A" stroke-width="1.1" />
<text x="278.90" y="50.20" font-size="11.2" font-style="italic">β</text><path d="M289.50 46.70h7.8M289.50 48.60h7.8" stroke="#1a1a1a" stroke-width="0.72"/><text x="300.30" y="50.20" font-size="11.2" textLength="20.6" lengthAdjust="spacingAndGlyphs">0.27</text><text x="321.10" y="51.60" font-size="9.6" font-style="italic" textLength="11" lengthAdjust="spacingAndGlyphs">PP</text>
<line x1="249" y1="60.7" x2="276.9" y2="60.7" stroke="#845E3A" stroke-width="1.1" />
<text x="278.90" y="64.20" font-size="11.2" font-style="italic">β</text><path d="M289.50 60.70h7.8M289.50 62.60h7.8" stroke="#1a1a1a" stroke-width="0.72"/><text x="300.30" y="64.20" font-size="11.2" textLength="20.6" lengthAdjust="spacingAndGlyphs">0.14</text><text x="321.10" y="65.60" font-size="9.6" font-style="italic" textLength="11" lengthAdjust="spacingAndGlyphs">PP</text>
</svg></body></html>
